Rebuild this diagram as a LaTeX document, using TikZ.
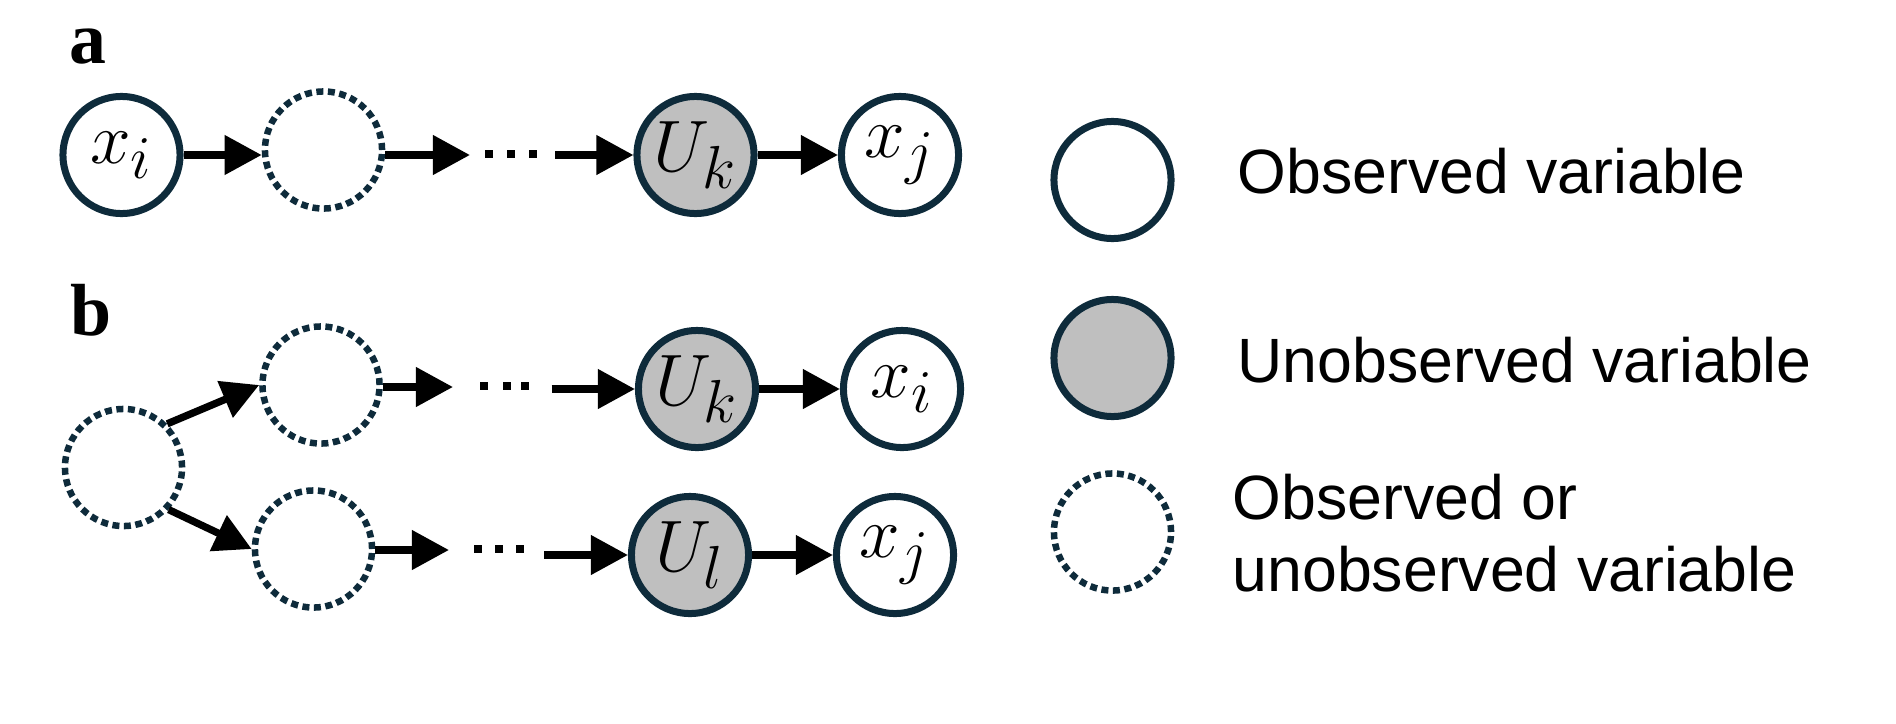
\documentclass[tikz,border=0pt]{standalone}
\usepackage{fontspec}
\setmainfont{Liberation Sans}
\newfontfamily\labelfont{Liberation Serif}
\usetikzlibrary{arrows.meta}
\definecolor{navy}{HTML}{0E2B3B}
\definecolor{ugray}{HTML}{BFBFBF}
\DeclareMathSizes{20.5}{20.5}{17}{12}
\begin{document}
\begin{tikzpicture}[x=0.01cm,y=-0.01cm,
  var/.style={circle, draw=navy, line width=0.07cm, minimum size=1.17cm, inner sep=0pt, font=\fontsize{20.5}{24}\selectfont},
  obs/.style={var, fill=white},
  unobs/.style={var, fill=ugray},
  either/.style={var, line width=0.065cm, dash pattern=on 0.07cm off 0.045cm},
  arr/.style={-{Triangle[length=0.37cm,width=0.38cm]}, line width=0.073cm, black},
  panel/.style={font=\labelfont\bfseries\fontsize{21}{24}\selectfont, inner sep=0pt, anchor=base west},
  legtext/.style={font=\fontsize{17.8}{20.5}\selectfont, inner sep=0pt, align=left}
]
\useasboundingbox (0,0) rectangle (1896,724);

% panel labels
\node[panel] (la) at (69,63) {a};
\node[panel] (lb) at (70,335) {b};

% row a
\node[obs] (xi) at (121.5,155) {$x_i$};
\node[either] (d1) at (323.5,150) {};
\coordinate (a1) at (470,155);
\coordinate (a2) at (555,155);
\node[unobs] (uk) at (695.5,155) {$U_k$};
\node[obs] (xj) at (900,155) {$x_j$};
\draw[arr] (xi) -- (xi -| d1.west);
\draw[arr] (d1.east |- a1) -- (a1);
\draw[arr] (a2) -- (uk);
\draw[arr] (uk) -- (xj);

% row b
\node[either] (L) at (123.5,467.5) {};
\node[either] (b1) at (321,385) {};
\node[either] (b2) at (313.5,549) {};
\coordinate (b1e) at (453,387);
\coordinate (b1s) at (551.5,389);
\node[unobs] (uk2) at (697,389) {$U_k$};
\node[obs] (xi2) at (902,389) {$x_i$};
\coordinate (b2e) at (449,550);
\coordinate (b2s) at (544,555);
\node[unobs] (ul) at (690,555) {$U_l$};
\node[obs] (xj2) at (895,555) {$x_j$};
\draw[arr] (L.45) -- (b1.west);
\draw[arr] (L.-43) -- (b2.west);
\draw[arr] (b1.east |- b1e) -- (b1e);
\draw[arr] (b1s) -- (uk2);
\draw[arr] (uk2) -- (xi2);
\draw[arr] (b2.east |- b2e) -- (b2e);
\draw[arr] (b2s) -- (ul);
\draw[arr] (ul) -- (xj2);

% ellipsis dots
\foreach \x/\y in {489/154, 511/154, 532.5/154, 484/386, 507/386, 524.5/386, 478/549, 499/549, 519.5/549}
  \fill[black] (\x-4,\y-4) rectangle (\x+4,\y+4);

% legend
\node[obs] (lg1) at (1112.5,180) {};
\node[unobs] (lg2) at (1112.5,358) {};
\node[either] (lg3) at (1112.5,532) {};
\node[legtext, anchor=base west] (t1) at (1237,193.4) {Observed variable};
\node[legtext, anchor=base west] (t2) at (1237,382.4) {Unobserved variable};
\node[legtext, anchor=west] (t3) at (1232,533.5) {Observed or\\unobserved variable};
\end{tikzpicture}
\end{document}
